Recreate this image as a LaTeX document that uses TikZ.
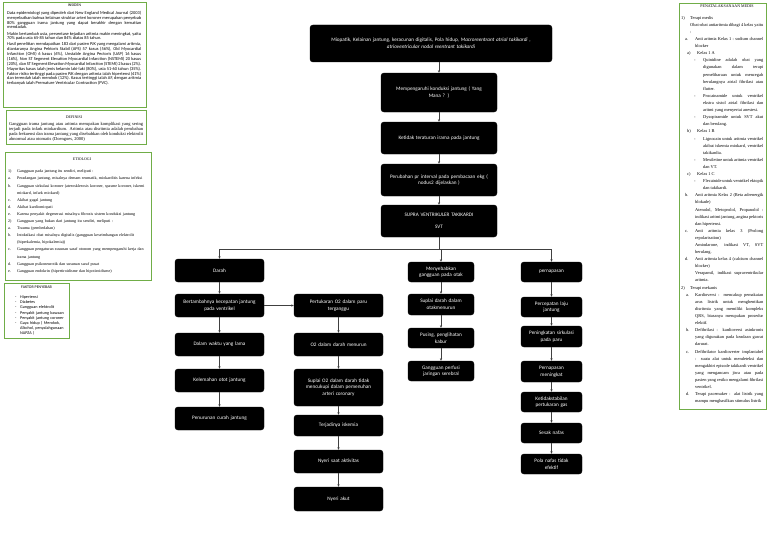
\documentclass[tikz,border=0pt]{standalone}
\usepackage{fontspec}
\setmainfont{Carlito}
\newfontfamily\tms{Liberation Serif}
\usetikzlibrary{arrows.meta}
\definecolor{grn}{HTML}{70AD47}
\hyphenpenalty=10000
\exhyphenpenalty=10000
\tolerance=9999
\emergencystretch=8pt
\newcommand{\ent}[4]{\par\noindent\hangindent=\dimexpr#1+#2\relax\hangafter=1\hspace*{#1}\makebox[#2][l]{#3}\ignorespaces#4}
\begin{document}
\begin{tikzpicture}[x=1pt,y=-1pt,
  fb/.style={draw=black, fill=black, rounded corners=3pt, text=white, align=center,
    font=\fontsize{5.2}{6.6}\selectfont, inner sep=1pt},
  arr/.style={-{Stealth[length=2.6pt,width=2.2pt]}, line width=0.45pt, draw=black!75},
  side/.style={draw=grn, line width=0.9pt, fill=white},
  ttl/.style={inner sep=0pt, font=\fontsize{3.9}{4}\selectfont}]
\useasboundingbox[fill=white] (0,0) rectangle (768,543);

% ---------- side panels ----------
\draw[side] (3,2) rectangle (146,107);
\node[ttl] (tins) at (74.5,5.5) {INSIDEN};
\node[anchor=north west, inner sep=0pt, text width=134pt, align=justify,
  font=\fontsize{4.4}{4.85}\selectfont] (tinsb) at (7,11) {%
  \setlength{\parskip}{1.2pt}\hyphenpenalty=10000\tolerance=9999%
  Data epidemiologi yang dipeoleh dari New England Medical Journal (2003) menyebutkan bahwa kelainan struktur arteri koroner merupakan penyebab 80\% gangguan irama jantung yang dapat berakhir dengan kematian mendadak.\par
  Makin bertambah usia, persentase kejadian aritmia makin meningkat, yaitu 70\% pada usia 65-85 tahun dan 84\% diatas 85 tahun.\par
  Hasil penelitian mendapatkan 183 dari pasien PJK yang mengalami aritmia, diantaranya Angina Pektoris Stabil (APS) 57 kasus (56\%), Old Myocardial Infarction (OMI) 6 kasus (6\%), Unstable Angina Pectoris (UAP) 16 kasus (16\%), Non ST Segment Elevation Myocardial Infarction (NSTEMI) 20 kasus (20\%), dan ST Segment Elevation Myocardial Infarction (STEMI) 2 kasus (2\%). Mayoritas kasus ialah jenis kelamin laki-laki (80\%), usia 51-60 tahun (35\%). Faktor risiko tertinggi pada pasien PJK dengan aritmia ialah hipertensi (41\%) dan terendah ialah merokok (12\%). Kasus tertinggi ialah AF, dengan aritmia terbanyak ialah Premature Ventricular Contraction (PVC).\par};

\draw[side] (6,110) rectangle (146,144);
\node[ttl, font=\tms\fontsize{3.9}{4}\selectfont] (tdef) at (74,117.5) {DEFINISI};
\node[anchor=north west, inner sep=0pt, text width=134pt, align=justify,
  font=\tms\fontsize{4.5}{5}\selectfont] (tdefb) at (9,122) {%
  \hyphenpenalty=10000\tolerance=9999%
  Gangguan irama jantung atau aritmia merupakan komplikasi yang sering terjadi pada infark miokardium. Aritmia atau disritmia adalah perubahan pada frekuensi dan irama jantung yang disebabkan oleh konduksi elektrolit abnormal atau otomatis (Doengoes, 2000)\par};

\draw[side] (5,152) rectangle (151,280);
\node[ttl, font=\tms\fontsize{3.9}{4}\selectfont] (teti) at (82,159) {ETIOLOGI};
\node[anchor=north west, inner sep=0pt, text width=140pt, align=left,
  font=\tms\fontsize{4.1}{7.1}\selectfont] (tetib) at (8,165.5) {%
  \hyphenpenalty=10000%
  \ent{0pt}{9pt}{1)}{Gangguan pada jantung itu sendiri, meliputi :}
  \ent{0pt}{9pt}{a.}{Peradangan jantung, misalnya demam reumatik, miokarditis karena infeksi}
  \ent{0pt}{9pt}{b.}{Gangguan sirkulasi koroner (aterosklerosis koroner, spasme koroner, iskemi miokard, infark miokard)}
  \ent{0pt}{9pt}{c.}{Akibat gagal jantung}
  \ent{0pt}{9pt}{d.}{Akibat kardiomiopati}
  \ent{0pt}{9pt}{e.}{Karena penyakit degenerasi misalnya fibrosis sistem konduksi jantung}
  \ent{0pt}{9pt}{2)}{Gangguan yang bukan dari jantung itu sendiri, meliputi :}
  \ent{0pt}{9pt}{a.}{Trauma (pembedahan)}
  \ent{0pt}{9pt}{b.}{Intoksikasi obat misalnya digitalis (gangguan keseimbangan elektrolit (hiperkalemia, hipokalemia))}
  \ent{0pt}{9pt}{c.}{Gangguan pengaturan susunan saraf otonom yang mempengaruhi kerja dan irama jantung}
  \ent{0pt}{9pt}{d.}{Gangguan psikoneurotik dan susunan saraf pusat}
  \ent{0pt}{9pt}{e.}{Gangguan endokrin (hipertiroidisme dan hipotiroidisme)}\par};

\draw[side] (4,283) rectangle (69,338);
\node[ttl, font=\fontsize{4}{4}\selectfont] (tfak) at (36.5,287) {FAKTOR PENYEBAB};
\node[anchor=north west, inner sep=0pt, text width=52pt, align=left,
  font=\fontsize{4.2}{5.2}\selectfont] (tfakb) at (15,293) {%
  \hyphenpenalty=10000%
  \ent{0pt}{5pt}{-}{Hipertensi}
  \ent{0pt}{5pt}{-}{Diabetes}
  \ent{0pt}{5pt}{-}{Gangguan elektrolit}
  \ent{0pt}{5pt}{-}{Penyakit jantung bawaan}
  \ent{0pt}{5pt}{-}{Penyakit jantung coroner}
  \ent{0pt}{5pt}{-}{Gaya hidup ( Merokok,\newline Alkohol, penyalahgunaan\newline NAPZA )}\par};

\draw[side] (679,3) rectangle (766,409);
\node[ttl, font=\tms\fontsize{4}{4}\selectfont] (tpen) at (727,6.5) {PENATALAKSANAAN MEDIS};
\node[anchor=north west, inner sep=0pt, text width=82pt, align=justify,
  font=\tms\fontsize{4.4}{7.1}\selectfont] (tpenb) at (681,12) {%
  \hyphenpenalty=10000\tolerance=9999\emergencystretch=8pt%
  \ent{0pt}{9pt}{1)}{Terapi medis}
  \ent{9pt}{0pt}{}{Obat-obat antiaritmia dibagi 4 kelas yaitu :}
  \ent{4pt}{10pt}{a.}{Anti aritmia Kelas 1 : sodium channel blocker}
  \ent{6pt}{10pt}{a)}{Kelas 1 A}
  \ent{13pt}{9pt}{-}{Quinidine adalah obat yang digunakan dalam terapi pemeliharaan untuk mencegah berulangnya atrial fibrilasi atau flutter.}
  \ent{13pt}{9pt}{-}{Procainamide untuk ventrikel ekstra sistol atrial fibrilasi dan aritmi yang menyertai anestesi.}
  \ent{13pt}{9pt}{-}{Dysopiramide untuk SVT akut dan berulang.}
  \ent{6pt}{10pt}{b)}{Kelas 1 B}
  \ent{13pt}{9pt}{-}{Lignocain untuk aritmia ventrikel akibat iskemia miokard, ventrikel takikardia.}
  \ent{13pt}{9pt}{-}{Mexiletine untuk aritmia ventrikel dan VT.}
  \ent{6pt}{10pt}{c)}{Kelas 1 C}
  \ent{13pt}{9pt}{-}{Flecainide untuk ventrikel ektopik dan takikardi.}
  \ent{4pt}{10pt}{b.}{Anti aritmia Kelas 2 (Beta adrenergik blokade)}
  \ent{14pt}{0pt}{}{Atenolol, Metoprolol, Propanolol : indikasi aritmi jantung, angina pektoris dan hipertensi.}
  \ent{4pt}{10pt}{c.}{Anti aritmia kelas 3 (Prolong repolarisation)}
  \ent{14pt}{0pt}{}{Amiodarone, indikasi VT, SVT berulang.}
  \ent{4pt}{10pt}{d.}{Anti aritmia kelas 4 (calcium channel blocker)}
  \ent{14pt}{0pt}{}{Verapamil, indikasi supraventrikular aritmia.}
  \ent{0pt}{9pt}{2)}{Terapi mekanis}
  \ent{5pt}{9pt}{a.}{Kardioversi : mencakup pemakaian arus listrik untuk menghentikan disritmia yang memiliki kompleks QRS, biasanya merupakan prosedur elektif.}
  \ent{5pt}{9pt}{b.}{Defibrilasi : kardioversi asinkronis yang digunakan pada keadaan gawat darurat.}
  \ent{5pt}{9pt}{c.}{Defibrilator kardioverter implantabel : suatu alat untuk mendeteksi dan mengakhiri episode takikardi ventrikel yang mengancam jiwa atau pada pasien yang resiko mengalami fibrilasi ventrikel.}
  \ent{5pt}{9pt}{d.}{Terapi pacemaker : alat listrik yang mampu menghasilkan stimulus listrik}\par};

% ---------- central flow ----------
\node[fb, minimum width=242pt, minimum height=37pt, text width=236pt] (n1) at (431,43.5)
  {Miopatik, Kelainan jantung, keracunan digitalis, Pola hidup, \textit{Macroreentrant atrial takikardi} ,\\ \textit{atrioventricular nodal reentrant takikardi}};
\node[fb, minimum width=116pt, minimum height=39pt, text width=110pt] (n2) at (439,92.5)
  {Mempengaruhi konduksi jantung ( Yang\\ Mana ? )};
\node[fb, minimum width=116pt, minimum height=32pt, text width=110pt] (n3) at (439,138)
  {Ketidak teraturan irama pada jantung};
\node[fb, minimum width=116pt, minimum height=32pt, text width=110pt] (n4) at (439,180)
  {Perubahan pr interval pada pembacaan ekg (\\ nodus2 dijelaskan )};
\node[fb, minimum width=116pt, minimum height=32pt, text width=110pt] (n5) at (439,221)
  {SUPRA VENTRIKULER TAKIKARDI\\[5pt] SVT};

% left column
\node[fb, minimum width=89pt, minimum height=23pt, text width=84pt] (l1) at (219.5,270.5) {Darah};
\node[fb, minimum width=89pt, minimum height=23pt, text width=84pt] (l2) at (219.5,305.5) {Bertambahnya kecepatan jantung\\ pada ventrikel};
\node[fb, minimum width=89pt, minimum height=23pt, text width=84pt] (l3) at (219.5,344.5) {Dalam waktu yang lama};
\node[fb, minimum width=89pt, minimum height=23pt, text width=84pt] (l4) at (219.5,380.5) {Kelemahan otot jantung};
\node[fb, minimum width=89pt, minimum height=23pt, text width=84pt] (l5) at (219.5,418.5) {Penurunan curah jantung};

% middle column
\node[fb, minimum width=89pt, minimum height=23pt, text width=84pt] (m1) at (338.5,305.5) {Pertukaran O2 dalam paru\\ terganggu};
\node[fb, minimum width=89pt, minimum height=23pt, text width=84pt] (m2) at (338.5,344.5) {O2 dalam darah menurun};
\node[fb, minimum width=89pt, minimum height=37pt, text width=84pt] (m3) at (338.5,387.5) {Suplai O2 dalam darah tidak\\ mencukupi dalam pemenuhan\\ arteri coronary};
\node[fb, minimum width=89pt, minimum height=21pt, text width=84pt] (m4) at (338.5,425.5) {Terjadinya iskemia};
\node[fb, minimum width=89pt, minimum height=23pt, text width=84pt] (m5) at (338.5,461.5) {Nyeri saat aktivitas};
\node[fb, minimum width=89pt, minimum height=24pt, text width=84pt] (m6) at (338.5,499) {Nyeri akut};

% third column
\node[fb, minimum width=66pt, minimum height=20pt, text width=62pt] (c1) at (441,272) {Menyebabkan\\ gangguan pada otak};
\node[fb, minimum width=66pt, minimum height=21pt, text width=62pt] (c2) at (441,304.5) {Suplai darah dalam\\ otakmenurun};
\node[fb, minimum width=66pt, minimum height=20pt, text width=62pt] (c3) at (441,338) {Pusing, penglihatan\\ kabur};
\node[fb, minimum width=66pt, minimum height=20pt, text width=62pt] (c4) at (441,371) {Gangguan perfusi\\ jaringan serebral};

% fourth column
\node[fb, minimum width=61pt, minimum height=20pt, text width=57pt] (r1) at (551.5,272) {pernapasan};
\node[fb, minimum width=61pt, minimum height=20pt, text width=57pt] (r2) at (551.5,307) {Percepatan laju\\ jantung};
\node[fb, minimum width=61pt, minimum height=21pt, text width=57pt] (r3) at (551.5,336.5) {Peningkatan sirkulasi\\ pada paru};
\node[fb, minimum width=61pt, minimum height=21pt, text width=57pt] (r4) at (551.5,371.5) {Pernapasan\\ meningkat};
\node[fb, minimum width=61pt, minimum height=20pt, text width=57pt] (r5) at (551.5,402) {Ketidakstabilan\\ pertukaran gas};
\node[fb, minimum width=61pt, minimum height=20pt, text width=57pt] (r6) at (551.5,433) {Sesak nafas};
\node[fb, minimum width=61pt, minimum height=20pt, text width=57pt] (r7) at (551.5,464) {Pola nafas tidak\\ efektif};

% connectors
\draw[arr] (n1.south -| n2) -- (n2);
\draw[arr] (n2) -- (n3);
\draw[arr] (n3) -- (n4);
\draw[arr] (n4) -- (n5);
\coordinate (br) at (439,249);
\draw[line width=0.45pt, draw=black!75] (n5.south) -- (br);
\draw[line width=0.45pt, draw=black!75] (br -| l1) -- (br -| r1);
\draw[arr] (br -| l1) -- (l1);
\draw[arr] (br -| c1) -- (c1);
\draw[arr] (br -| r1) -- (r1);
\draw[arr] (l1) -- (l2);
\draw[arr] (l2) -- (l3);
\draw[arr] (l3) -- (l4);
\draw[arr] (l4) -- (l5);
\draw[arr] (l2) -- (m1);
\draw[arr] (m1) -- (m2);
\draw[arr] (m2) -- (m3);
\draw[arr] (m3) -- (m4);
\draw[arr] (m4) -- (m5);
\draw[arr] (m5) -- (m6);
\draw[arr] (c1) -- (c2);
\draw[arr] (c2) -- (c3);
\draw[arr] (c3) -- (c4);
\draw[arr] (r1) -- (r2);
\draw[arr] (r2) -- (r3);
\draw[arr] (r3) -- (r4);
\draw[arr] (r4) -- (r5);
\draw[arr] (r5) -- (r6);
\draw[arr] (r6) -- (r7);
\end{tikzpicture}
\end{document}
